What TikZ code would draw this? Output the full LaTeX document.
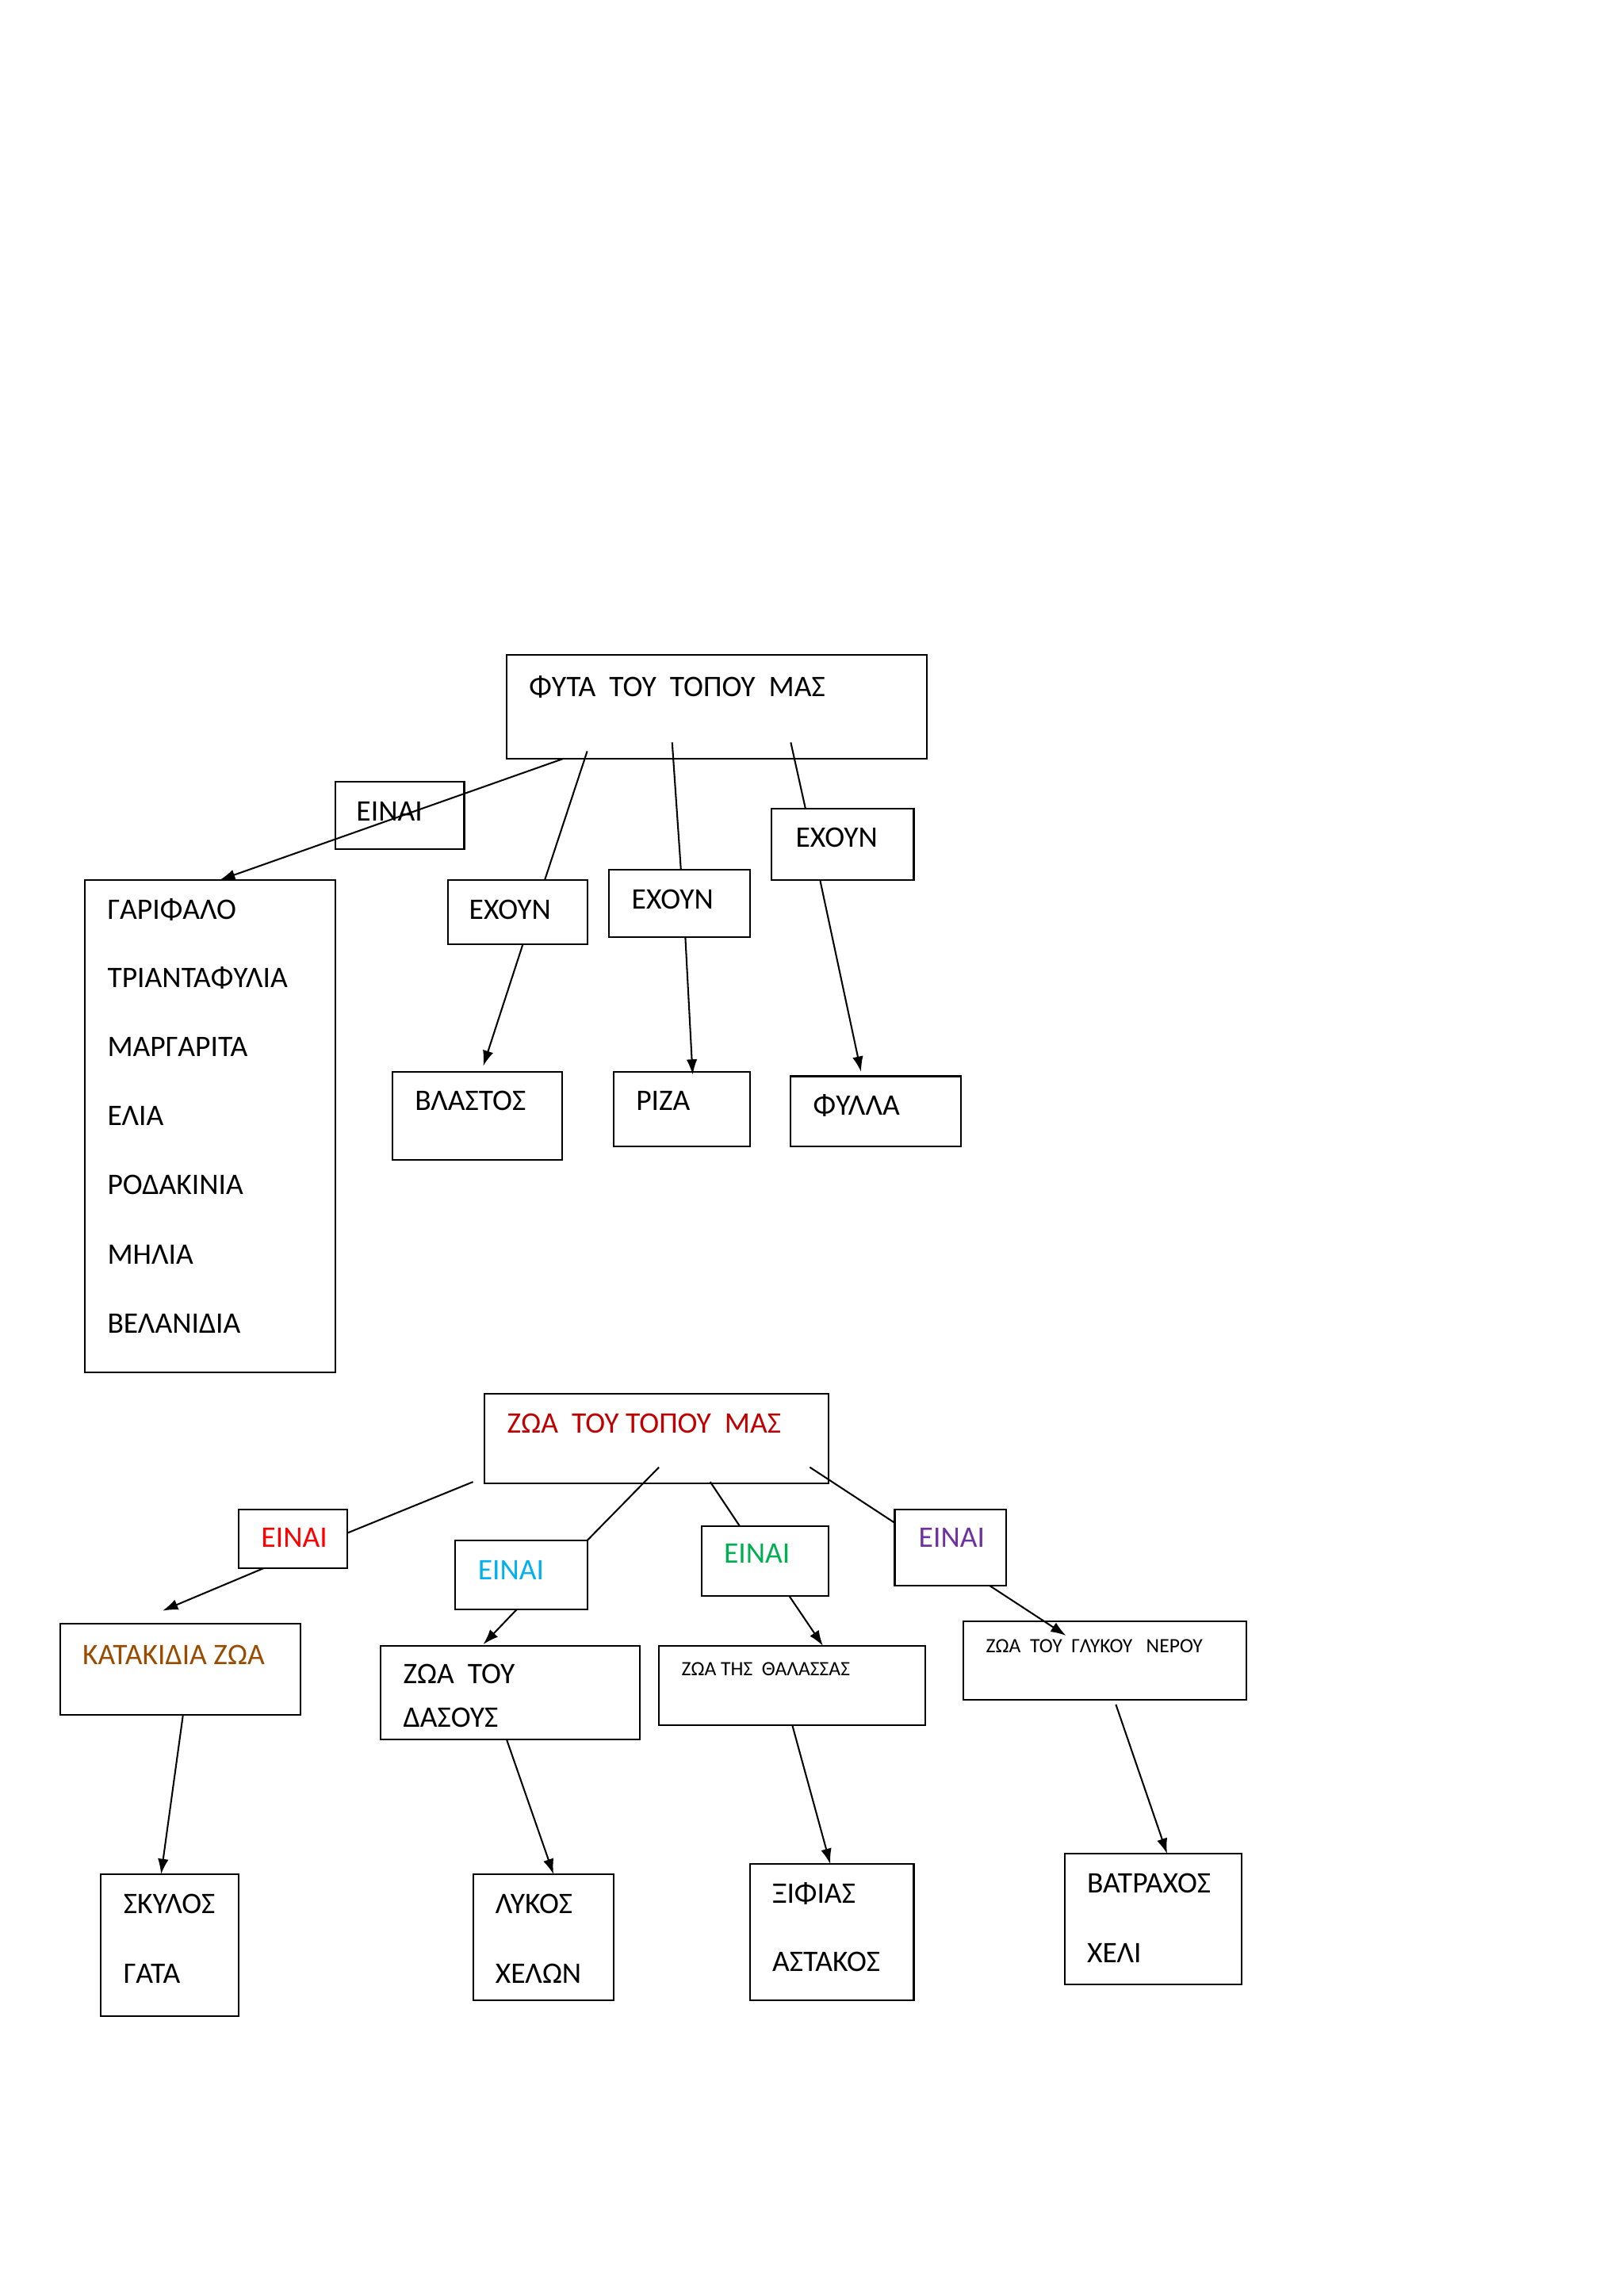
\documentclass[tikz,border=0pt]{standalone}
\usepackage{fontspec}
\setmainfont{Carlito}
\usetikzlibrary{arrows.meta}
\definecolor{zred}{RGB}{192,0,0}
\definecolor{ered}{RGB}{255,0,0}
\definecolor{kbrown}{RGB}{153,76,0}
\definecolor{ecyan}{RGB}{0,176,240}
\definecolor{egreen}{RGB}{0,176,80}
\definecolor{epurple}{RGB}{112,48,160}
\tikzset{
  box/.style={draw=black, line width=0.6pt},
  txt/.style={anchor=west, inner sep=0pt, font=\fontsize{11}{13}\selectfont},
  small/.style={anchor=west, inner sep=0pt, font=\fontsize{7.5}{9}\selectfont},
  ln/.style={line width=0.6pt},
  arr/.style={line width=0.6pt, -{Latex[length=2mm,width=1.4mm]}}
}
\begin{document}
\begin{tikzpicture}[x=0.019cm,y=-0.019cm]
\useasboundingbox (0,0) rectangle (1108,1568);
% plants
\draw [box] (346,447) rectangle (633,518);
\node [txt] (fyta) at (361,469) {ΦΥΤΑ\ \ ΤΟΥ\ \ ΤΟΠΟΥ\ \ ΜΑΣ};
\draw [box] (229,534) rectangle (317,580);
\node [txt] (einai1) at (243,554) {ΕΙΝΑΙ};
\draw [box] (58,601) rectangle (229,937);
\node [txt] (l1) at (73,621) {ΓΑΡΙΦΑΛΟ};
\node [txt] (l2) at (73,668) {ΤΡΙΑΝΤΑΦΥΛΙΑ};
\node [txt] (l3) at (73,715) {ΜΑΡΓΑΡΙΤΑ};
\node [txt] (l4) at (73,762) {ΕΛΙΑ};
\node [txt] (l5) at (73,809) {ΡΟΔΑΚΙΝΙΑ};
\node [txt] (l6) at (73,857) {ΜΗΛΙΑ};
\node [txt] (l7) at (73,904) {ΒΕΛΑΝΙΔΙΑ};
\draw [box] (306,601) rectangle (401,645);
\node [txt] (exoyn1) at (320,621) {ΕΧΟΥΝ};
\draw [box] (416,594) rectangle (512,640);
\node [txt] (exoyn2) at (431,614) {ΕΧΟΥΝ};
\draw [box] (527,552) rectangle (624,601);
\node [txt] (exoyn3) at (543,572) {ΕΧΟΥΝ};
\draw [box] (268,732) rectangle (384,792);
\node [txt] (vlastos) at (283,752) {ΒΛΑΣΤΟΣ};
\draw [box] (419,732) rectangle (512,783);
\node [txt] (riza) at (434,752) {ΡΙΖΑ};
\draw [box] (540,735) rectangle (656,783);
\node [txt] (fylla) at (555,755) {ΦΥΛΛΑ};
\coordinate (p1) at (385,518); \coordinate (p1e) at (150,601);
\coordinate (p2) at (401,513); \coordinate (p2e) at (372,601);
\coordinate (p3) at (357,645); \coordinate (p3e) at (330,728);
\coordinate (p4) at (459,507); \coordinate (p4e) at (465,594);
\coordinate (p5) at (468,640); \coordinate (p5e) at (473,734);
\coordinate (p6) at (540,507); \coordinate (p6e) at (550,552);
\coordinate (p7) at (560,601); \coordinate (p7e) at (588,732);
\draw [arr] (p1) -- (p1e);
\draw [ln] (p2) -- (p2e);
\draw [arr] (p3) -- (p3e);
\draw [ln] (p4) -- (p4e);
\draw [arr] (p5) -- (p5e);
\draw [ln] (p6) -- (p6e);
\draw [arr] (p7) -- (p7e);
% animals
\draw [box] (331,952) rectangle (566,1013);
\node [txt, text=zred] (zoa) at (346,972) {ΖΩΑ\ \ ΤΟΥ ΤΟΠΟΥ\ \ ΜΑΣ};
\draw [box] (163,1031) rectangle (237,1071);
\node [txt, text=ered] (einaiR) at (178,1050) {ΕΙΝΑΙ};
\draw [box] (41,1109) rectangle (205,1171);
\node [txt, text=kbrown] (katoik) at (56,1130) {ΚΑΤΑΚΙΔΙΑ ΖΩΑ};
\draw [box] (311,1052) rectangle (401,1099);
\node [txt, text=ecyan] (einaiC) at (326,1072) {ΕΙΝΑΙ};
\draw [box] (260,1124) rectangle (437,1188);
\node [txt] (dasous1) at (275,1143) {ΖΩΑ\ \ ΤΟΥ};
\node [txt] (dasous2) at (275,1173) {ΔΑΣΟΥΣ};
\draw [box] (479,1042) rectangle (566,1090);
\node [txt, text=egreen] (einaiG) at (494,1061) {ΕΙΝΑΙ};
\draw [box] (450,1124) rectangle (632,1178);
\node [small] (thal) at (465,1140) {ΖΩΑ ΤΗΣ\ \ ΘΑΛΑΣΣΑΣ};
\draw [box] (611,1031) rectangle (687,1083);
\node [txt, text=epurple] (einaiP) at (627,1050) {ΕΙΝΑΙ};
\draw [box] (658,1107) rectangle (851,1161);
\node [small] (glyk) at (673,1124) {ΖΩΑ\ \ ΤΟΥ\ \ ΓΛΥΚΟΥ\ \ \ ΝΕΡΟΥ};
\draw [box] (69,1280) rectangle (163,1377);
\node [txt] (skylos) at (84,1300) {ΣΚΥΛΟΣ};
\node [txt] (gata) at (84,1348) {ΓΑΤΑ};
\draw [box] (323,1280) rectangle (419,1366);
\node [txt] (lykos) at (338,1300) {ΛΥΚΟΣ};
\node [txt] (xelon) at (338,1348) {ΧΕΛΩΝ};
\draw [box] (512,1273) rectangle (624,1366);
\node [txt] (xifias) at (527,1293) {ΞΙΦΙΑΣ};
\node [txt] (astakos) at (527,1340) {ΑΣΤΑΚΟΣ};
\draw [box] (727,1266) rectangle (848,1355);
\node [txt] (vatr) at (742,1286) {ΒΑΤΡΑΧΟΣ};
\node [txt] (xeli) at (742,1334) {ΧΕΛΙ};
\coordinate (q1) at (323,1012); \coordinate (q1e) at (237,1047);
\coordinate (q2) at (180,1071); \coordinate (q2e) at (111,1100);
\coordinate (q3) at (450,1002); \coordinate (q3e) at (401,1052);
\coordinate (q4) at (353,1099); \coordinate (q4e) at (330,1123);
\coordinate (q5) at (485,1012); \coordinate (q5e) at (505,1042);
\coordinate (q6) at (539,1090); \coordinate (q6e) at (562,1124);
\coordinate (q7) at (553,1002); \coordinate (q7e) at (611,1040);
\coordinate (q8) at (676,1083); \coordinate (q8e) at (728,1117);
\coordinate (q9) at (125,1171); \coordinate (q9e) at (110,1280);
\coordinate (q10) at (346,1188); \coordinate (q10e) at (378,1280);
\coordinate (q11) at (541,1178); \coordinate (q11e) at (567,1273);
\coordinate (q12) at (762,1164); \coordinate (q12e) at (797,1266);
\draw [ln] (q1) -- (q1e);
\draw [arr] (q2) -- (q2e);
\draw [ln] (q3) -- (q3e);
\draw [arr] (q4) -- (q4e);
\draw [ln] (q5) -- (q5e);
\draw [arr] (q6) -- (q6e);
\draw [ln] (q7) -- (q7e);
\draw [arr] (q8) -- (q8e);
\draw [arr] (q9) -- (q9e);
\draw [arr] (q10) -- (q10e);
\draw [arr] (q11) -- (q11e);
\draw [arr] (q12) -- (q12e);
\end{tikzpicture}
\end{document}
